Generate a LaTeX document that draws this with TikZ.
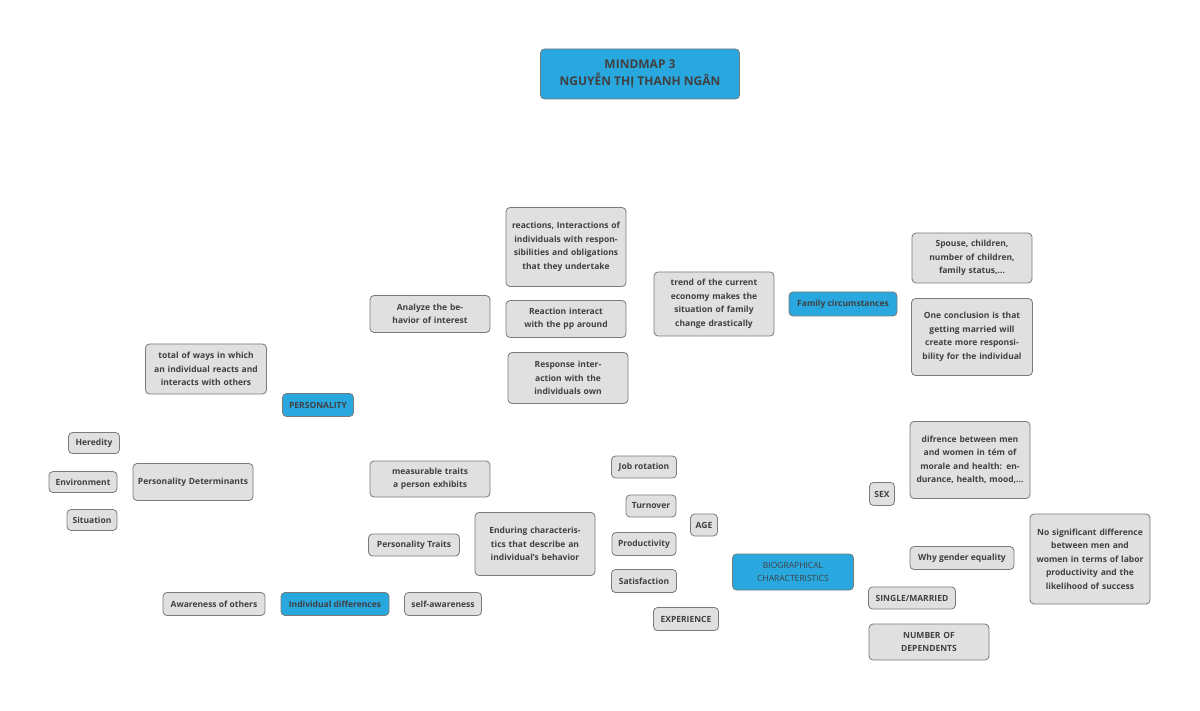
\documentclass[tikz,border=0pt]{standalone}
\usepackage{fontspec}
\setmainfont{Open Sans}
\usetikzlibrary{backgrounds}
\definecolor{bx}{HTML}{E0E0E0}
\definecolor{bl}{HTML}{29A8E0}
\definecolor{ln}{HTML}{7A7A7A}
\definecolor{tx}{HTML}{404040}
\begin{document}
\begin{tikzpicture}[x=1pt,y=-1pt,
 box/.style={draw=ln,fill=bx,rounded corners=4pt,line width=0.8pt,text=tx,align=center,inner sep=2pt,
   font=\fontsize{8.5}{13.5}\selectfont\bfseries},
 blu/.style={box,fill=bl},
 con/.style={draw=ln,line width=0.8pt}]
\useasboundingbox (0,0) rectangle (1200,711);
\fill[white] (0,0) rectangle (1200,711);
\node[blu,minimum width=199pt,minimum height=50pt,font=\fontsize{12}{17}\selectfont\bfseries] (T) at (640,74) {MINDMAP 3\\NGUYỄN THỊ THANH NGÂN};
\node[blu,minimum width=71pt,minimum height=23pt] (P) at (318,405) {PERSONALITY};
\node[box,minimum width=120pt,minimum height=37pt,text width=114pt] (A) at (430,314) {Analyze the behavior of interest};
\node[box,minimum width=120pt,minimum height=79pt,text width=112pt] (A1) at (566,247) {reactions, Interactions of individuals with responsibilities and obligations that they undertake};
\node[box,minimum width=120pt,minimum height=37pt,text width=114pt] (A2) at (566,319) {Reaction interact with the pp around};
\node[box,minimum width=120pt,minimum height=51pt,text width=106pt] (A3) at (568,378) {Response interaction with the individuals own};
\node[box,minimum width=121pt,minimum height=50pt,text width=115pt] (TW) at (206,369) {total of ways in which an individual reacts and interacts with others};
\node[box,minimum width=120pt,minimum height=37pt,text width=112pt] (PD) at (193,482) {Personality Determinants};
\node[box,minimum width=51pt,minimum height=21pt] (H) at (94,443) {Heredity};
\node[box,minimum width=68pt,minimum height=21pt] (E) at (83,482) {Environment};
\node[box,minimum width=50pt,minimum height=21pt] (S) at (92,520) {Situation};
\node[box,minimum width=120pt,minimum height=36pt,text width=106pt] (M) at (430,479) {measurable traits a person exhibits};
\node[box,minimum width=91pt,minimum height=22pt] (PT) at (414,545) {Personality Traits};
\node[box,minimum width=120pt,minimum height=63pt,text width=114pt] (EN) at (535,544) {Enduring characteristics that describe an individual's behavior};
\node[blu,minimum width=108pt,minimum height=23pt] (ID) at (335,604) {Individual differences};
\node[box,minimum width=102pt,minimum height=23pt] (AO) at (214,604) {Awareness of others};
\node[box,minimum width=77pt,minimum height=23pt] (SA) at (443,604) {self-awareness};
\node[blu,minimum width=108pt,minimum height=24pt] (F) at (843,304) {Family circumstances};
\node[box,minimum width=120pt,minimum height=64pt,text width=104pt] (TR) at (714,304) {trend of the current economy makes the situation of family change drastically};
\node[box,minimum width=120pt,minimum height=50pt,text width=104pt] (SP) at (972,258) {Spouse, children, number of children, family status,...};
\node[box,minimum width=121pt,minimum height=77pt,text width=112pt] (OC) at (972,337) {One conclusion is that getting married will create more responsibility for the individual};
\node[blu,minimum width=121pt,minimum height=36pt,text width=110pt,font=\fontsize{8.5}{13.5}\selectfont] (B) at (793,572) {BIOGRAPHICAL CHARACTERISTICS};
\node[box,minimum width=27pt,minimum height=22pt] (AGE) at (704,525) {AGE};
\node[box,minimum width=65pt,minimum height=22pt] (J) at (644,467) {Job rotation};
\node[box,minimum width=50pt,minimum height=22pt] (TU) at (651,506) {Turnover};
\node[box,minimum width=64pt,minimum height=23pt] (PR) at (644,544) {Productivity};
\node[box,minimum width=65pt,minimum height=23pt] (SF) at (644,581) {Satisfaction};
\node[box,minimum width=65pt,minimum height=23pt] (EX) at (686,619) {EXPERIENCE};
\node[box,minimum width=25pt,minimum height=23pt] (SEX) at (882,494) {SEX};
\node[box,minimum width=120pt,minimum height=77pt,text width=112pt] (D) at (970,460) {difrence between men and women in tém of morale and health: endurance, health, mood,...};
\node[box,minimum width=104pt,minimum height=23pt] (W) at (962,558) {Why gender equality};
\node[box,minimum width=120pt,minimum height=90pt,text width=110pt] (N) at (1090,559) {No significant difference between men and women in terms of labor productivity and the likelihood of success};
\node[box,minimum width=87pt,minimum height=22pt] (SM) at (912,598) {SINGLE/MARRIED};
\node[box,minimum width=120pt,minimum height=36pt,text width=100pt] (ND) at (929,642) {NUMBER OF DEPENDENTS};
\begin{scope}[on background layer]
\draw[con] (P.center) to[out=90,in=180] (A.west);
\draw[con] (P.center) to[out=90,in=0] (TW.east);
\draw[con] (P.center) to[out=270,in=0] (PD.east);
\draw[con] (P.center) to[out=270,in=180] (M.west);
\draw[con] (P.center) to[out=270,in=180] (PT.west);
\draw[con] (A.center) to[out=90,in=180] (A1.west);
\draw[con] (A.center) to[out=0,in=180] (A2.west);
\draw[con] (A.center) to[out=270,in=180] (A3.west);
\draw[con] (PD.center) to[out=90,in=0] (H.east);
\draw[con] (PD.center) -- (E.east);
\draw[con] (PD.center) to[out=270,in=0] (S.east);
\draw[con] (PT.east) -- (EN.west);
\draw[con] (ID.west) -- (AO.east);
\draw[con] (ID.east) -- (SA.west);
\draw[con] (F.west) -- (TR.east);
\draw[con] (F.center) to[out=90,in=180] (SP.west);
\draw[con] (F.center) to[out=270,in=180] (OC.west);
\draw[con] (B.center) to[out=90,in=0] (AGE.east);
\draw[con] (B.center) to[out=270,in=0] (EX.east);
\draw[con] (B.center) to[out=90,in=180] (SEX.west);
\draw[con] (B.center) to[out=270,in=180] (SM.west);
\draw[con] (B.center) to[out=270,in=180] (ND.west);
\draw[con] (AGE.center) to[out=90,in=0] (J.east);
\draw[con] (AGE.center) to[out=120,in=0] (TU.east);
\draw[con] (AGE.center) to[out=240,in=0] (PR.east);
\draw[con] (AGE.center) to[out=270,in=0] (SF.east);
\draw[con] (SEX.center) to[out=90,in=180] (D.west);
\draw[con] (SEX.center) to[out=270,in=180] (W.west);
\draw[con] (W.east) -- (N.west);
\end{scope}
\end{tikzpicture}
\end{document}
